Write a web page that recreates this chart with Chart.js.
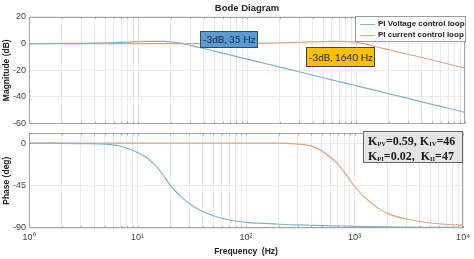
<!DOCTYPE html>
<html>
<head>
<meta charset="utf-8">
<script src="https://cdn.jsdelivr.net/npm/chart.js@4.4.1/dist/chart.umd.min.js"></script>
<style>
  html, body { margin: 0; padding: 0; background: #fff; }
  #wrap { position: relative; width: 474px; height: 259px; overflow: hidden; }
  canvas { position: absolute; left: 0; }
  #magChart { top: 0; }
  #phaseChart { top: 125px; }
  .note { position: absolute; box-sizing: border-box; border: 1px solid #3b4a58; font-family: Lato, 'Open Sans', sans-serif;
          font-size: 10px; color: #1d2a36; text-align: center; white-space: nowrap; }
  #noteV { left: 200px; top: 31px; width: 58px; height: 17px; line-height: 15px; background: #5b9bd5; }
  #noteI { left: 306px; top: 47px; width: 69px; height: 20px; line-height: 18px; background: #ffc000; }
  #legend { position: absolute; left: 355px; top: 16px; width: 111px; height: 26px; box-sizing: border-box;
            background: #fff; border: 1px solid #9c9c9c; font: bold 8px 'Liberation Sans', Arial, sans-serif; color: #222; }
  #legend div { position: absolute; left: 22px; white-space: nowrap; }
  #legend span { position: absolute; left: 4px; width: 15px; height: 1px; }
  #gains { position: absolute; left: 363px; top: 131px; width: 100px; height: 32px; box-sizing: border-box;
           background: #e5e5e5; border: 1px solid #666; font: bold 12px 'Liberation Serif', 'Times New Roman', serif;
           line-height: 13px; color: #1a1a1a; padding: 3px 0 0 4px; white-space: pre; }
  #gains sub { font-size: 6.5px; vertical-align: -1px; }
</style>
</head>
<body>
<div id="wrap">
  <canvas id="magChart" width="474" height="132"></canvas>
  <canvas id="phaseChart" width="474" height="134"></canvas>
  <div class="note" id="noteV">-3dB, 35 Hz</div>
  <div class="note" id="noteI">-3dB, 1640 Hz</div>
  <div id="legend">
    <span style="top:7px;background:#86b2c8"></span><div style="top:2px">PI Voltage control loop</div>
    <span style="top:18px;background:#dba584"></span><div style="top:13px">PI current control loop</div>
  </div>
  <div id="gains">K<sub>PV</sub>=0.59, K<sub>IV</sub>=46
K<sub>PI</sub>=0.02,  K<sub>II</sub>=47</div>
</div>
<script>
// values
const freqHz = [1, 2, 3, 5, 7, 10, 12, 15, 17, 20, 22, 25, 30, 35, 40, 50, 70, 100, 150, 200, 300, 400, 500, 600, 700, 850, 1000, 1200, 1500, 2000, 3000, 5000, 7000, 10000];
const voltMagDb = [0, 0.1, 0.2, 0.5, 0.9, 1.4, 1.6, 1.7, 1.6, 1.3, 0.9, 0.3, -1.3, -2.6, -3.6, -5.6, -8.5, -11.6, -15.1, -17.6, -21.1, -23.6, -25.6, -27.2, -28.5, -30.2, -31.6, -33.2, -35.1, -37.6, -41.1, -45.6, -48.5, -51.6];
const currMagDb = [0, 0, 0, 0, 0, 0, 0, 0, 0, 0, 0, 0, 0, 0, 0, 0, 0.1, 0.2, 0.4, 0.6, 1.0, 1.3, 1.5, 1.6, 1.7, 1.4, 0.9, -0.1, -2.2, -4.6, -8.0, -12.3, -15.3, -18.4];
const voltPhaseDeg = [0, -0.2, -0.5, -1.2, -3.3, -10, -15, -25, -33, -44.5, -50, -56.5, -64, -69, -72.5, -77, -81.5, -84, -85.2, -86, -86.7, -87.1, -87.4, -87.6, -87.8, -88, -88.2, -88.4, -88.6, -88.8, -89, -89.2, -89.3, -89.4];
const currPhaseDeg = [0, 0, 0, 0, 0, 0, 0, 0, 0, 0, 0, 0, 0, 0, 0, 0, 0, 0, 0, 0, -1, -3, -8.5, -15, -22, -34.5, -46, -56, -65.5, -74.5, -80.5, -84.7, -86, -87];

const decadeTicks = [1, 10, 100, 1000, 10000];
const decadeLabels = ['10⁰', '10¹', '10²', '10³', '10⁴'];
const magTicks = [-60, -40, -20, 0, 20];
const phaseTicks = [-90, -45, 0];

const voltColor = '#86b2c8';
const currColor = '#dba584';
const gridColor = '#ebebeb';
const tickFont = { family: "'Liberation Sans', Arial, sans-serif", size: 9 };
const titleFont = { family: "'Liberation Sans', Arial, sans-serif", size: 8.5, weight: 'bold' };

// grid at 1..9 of every decade
const xGrid = [];
decadeTicks.forEach(function (d, i) {
    for (let k = 1; k <= 9; k++) {
        if (i === decadeTicks.length - 1 && k > 1) break;
        xGrid.push(d * k);
    }
});

function pts(ys) {
    return freqHz.map(function (f, i) { return { x: f, y: ys[i] }; });
}

function line(label, ys, color) {
    return {
        label: label,
        data: pts(ys),
        borderColor: color,
        borderWidth: 1.2,
        pointRadius: 0,
        fill: false,
        cubicInterpolationMode: 'monotone'
    };
}

// box round the plot plus small inward ticks, like the matlab axes
const axesBox = {
    id: 'axesBox',
    afterDraw: function (chart) {
        const ctx = chart.ctx;
        const a = chart.chartArea;
        const xs = chart.scales.x;
        ctx.save();
        ctx.strokeStyle = '#a4a4a4';
        ctx.lineWidth = 1;
        ctx.beginPath();
        xGrid.forEach(function (v) {
            const px = Math.round(xs.getPixelForValue(v)) + 0.5;
            ctx.moveTo(px, a.bottom);
            ctx.lineTo(px, a.bottom - 2);
            ctx.moveTo(px, a.top);
            ctx.lineTo(px, a.top + 2);
        });
        ctx.stroke();
        ctx.strokeRect(Math.round(a.left) + 0.5, Math.round(a.top) + 0.5,
            Math.round(a.right - a.left) - 1, Math.round(a.bottom - a.top) - 1);
        ctx.restore();
    }
};

function xScale(showLabels) {
    const s = {
        type: 'logarithmic',
        min: 1,
        max: 10000,
        afterBuildTicks: function (scale) {
            scale.ticks = xGrid.map(function (v) { return { value: v }; });
        },
        grid: { color: gridColor, drawTicks: false },
        border: { display: false },
        ticks: {
            display: showLabels,
            autoSkip: false,
            maxRotation: 0,
            padding: 4,
            color: '#444',
            font: tickFont,
            callback: function (value) {
                const i = decadeTicks.indexOf(value);
                return i >= 0 ? decadeLabels[i] : '';
            }
        }
    };
    if (showLabels) {
        s.title = { display: true, text: 'Frequency  (Hz)', color: '#222', font: titleFont, padding: { top: 0, bottom: 2 } };
        s.afterFit = function (scale) { scale.height = 31; };
    } else {
        s.afterFit = function (scale) { scale.height = 0; };
    }
    return s;
}

function yScale(min, max, ticks, title) {
    return {
        min: min,
        max: max,
        afterBuildTicks: function (scale) {
            scale.ticks = ticks.map(function (v) { return { value: v }; });
        },
        grid: { color: gridColor, drawTicks: false },
        border: { display: false },
        ticks: { color: '#444', font: tickFont, padding: 3 },
        title: { display: true, text: title, color: '#222', font: titleFont, padding: { top: 2, bottom: 0 } },
        afterFit: function (scale) { scale.width = 29; }
    };
}

// Magnitude panel
const magCtx = document.getElementById('magChart').getContext('2d');
const magChart = new Chart(magCtx, {
    type: 'line',
    data: {
        datasets: [
            line('PI Voltage control loop', voltMagDb, voltColor),
            line('PI current control loop', currMagDb, currColor)
        ]
    },
    options: {
        responsive: false,
        animation: false,
        layout: { padding: { left: 0, right: 9, top: 0, bottom: 6 } },
        plugins: {
            legend: { display: false },
            tooltip: { enabled: false },
            title: {
                display: true,
                text: 'Bode Diagram',
                fullSize: false,
                color: '#222',
                font: { family: "'Liberation Sans', Arial, sans-serif", size: 9.5, weight: 'bold' },
                padding: { top: 2.5, bottom: 3 }
            }
        },
        scales: {
            x: xScale(false),
            y: yScale(-60, 20, magTicks, 'Magnitude (dB)')
        }
    },
    plugins: [axesBox]
});

// Phase panel
const phaseCtx = document.getElementById('phaseChart').getContext('2d');
const phaseChart = new Chart(phaseCtx, {
    type: 'line',
    data: {
        datasets: [
            line('PI Voltage control loop', voltPhaseDeg, voltColor),
            line('PI current control loop', currPhaseDeg, currColor)
        ]
    },
    options: {
        responsive: false,
        animation: false,
        layout: { padding: { left: 0, right: 9, top: 6, bottom: 0 } },
        plugins: {
            legend: { display: false },
            tooltip: { enabled: false }
        },
        scales: {
            x: xScale(true),
            y: yScale(-90, 10.3, phaseTicks, 'Phase (deg)')
        }
    },
    plugins: [axesBox]
});
</script>
</body>
</html>
